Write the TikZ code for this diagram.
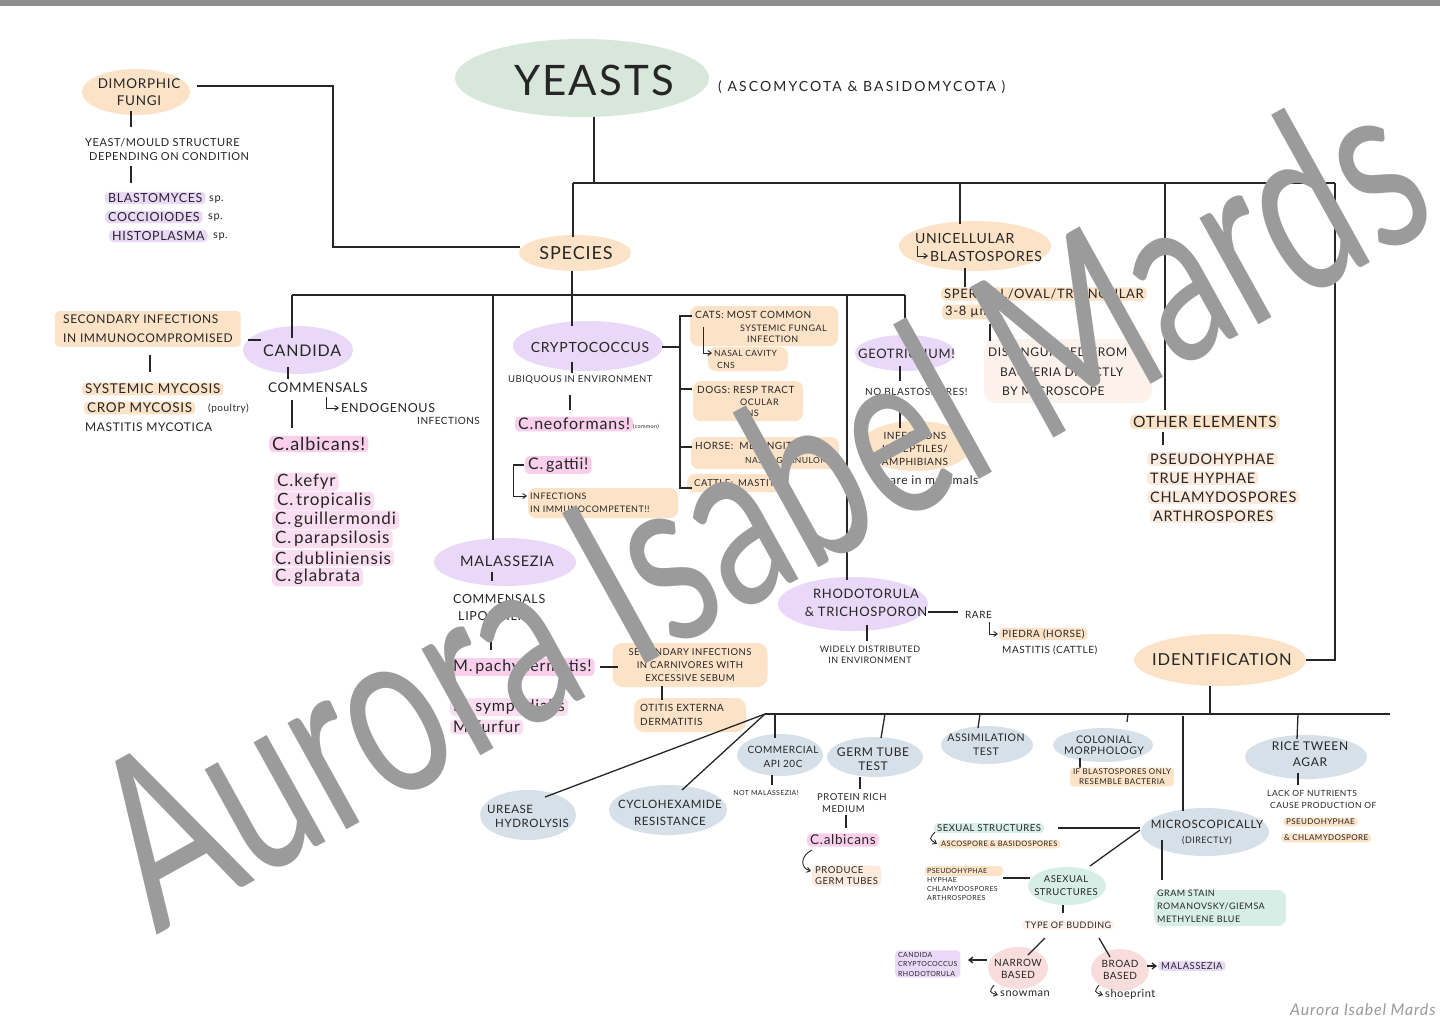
\documentclass[tikz,border=0pt]{standalone}
\usepackage{fontspec}
\setmainfont{Lato}[LetterSpace=5]
\newfontfamily\wmfont{Lato}
\usetikzlibrary{shapes.geometric,arrows.meta}
\definecolor{ink}{HTML}{262626}
\definecolor{sage}{HTML}{D7E7DA}
\definecolor{peach}{HTML}{FCE2C6}
\definecolor{lpeach}{HTML}{FCEBDD}
\definecolor{lav}{HTML}{E9D8F8}
\definecolor{pnk}{HTML}{F9CFEB}
\definecolor{lpnk}{HTML}{FBDDF1}
\definecolor{bgray}{HTML}{D6E0E8}
\definecolor{mint}{HTML}{D6EEE5}
\definecolor{rose}{HTML}{F9DCDC}
\definecolor{pale}{HTML}{FDF1EC}
\definecolor{wm}{HTML}{9B9B9B}
\definecolor{bar}{HTML}{8E8E8E}
\newcommand\fz[2]{\fontsize{#1}{#2}\selectfont}
\tikzset{
  tx/.style={inner sep=0pt, anchor=west, align=left, text=ink},
  txc/.style={inner sep=0pt, anchor=center, align=center, text=ink},
  hl/.style={fill=#1, rounded corners=4pt, inner xsep=3pt, inner ysep=1.5pt},
  blob/.style={fill=#1, ellipse, draw=none, inner sep=0pt},
  grp/.style={fill=#1, rounded corners=8pt, draw=none, inner sep=0pt},
  ln/.style={draw=ink, line width=1.3pt},
  hook/.style={draw=ink, line width=0.9pt, -{Straight Barb[length=3.5pt,width=5pt]}},
}
\begin{document}
\begin{tikzpicture}[x=1pt,y=-1pt]
\useasboundingbox (0,0) rectangle (1440,1034);
\fill[white] (0,0) rectangle (1440,1034);
\fill[bar] (0,0) rectangle (1440,6);

% ---------- background blobs ----------
\node[blob=sage, minimum width=254, minimum height=78] (yeastsbg) at (582,78) {};
\node[blob=peach, minimum width=108, minimum height=46] (dimbg) at (136,92) {};
\node[blob=peach, minimum width=112, minimum height=36] (specbg) at (575,253) {};
\node[blob=lav, minimum width=110, minimum height=48] (candbg) at (298,350) {};
\node[blob=lav, minimum width=150, minimum height=50] (crybg) at (588,346) {};
\node[blob=lav, minimum width=100, minimum height=36] (geobg) at (905,353) {};
\node[blob=peach, minimum width=112, minimum height=50] (geoinfbg) at (916,446) {};
\node[blob=peach, minimum width=152, minimum height=50] (unibg) at (975,246) {};
\node[grp=pale, rounded corners=12pt, minimum width=168, minimum height=64] (distbg) at (1068,371) {};
\node[blob=lav, minimum width=142, minimum height=48] (malbg) at (505,562) {};
\node[blob=lav, minimum width=150, minimum height=54] (rhobg) at (853,604) {};
\node[blob=peach, minimum width=172, minimum height=52] (idbg) at (1220,660) {};
\node[grp=peach, minimum width=148, minimum height=40] (catsbg) at (764,326) {};
\node[grp=peach, minimum width=80, minimum height=24] (nasalbg) at (748,359) {};
\node[grp=peach, minimum width=110, minimum height=40] (dogsbg) at (748,401) {};
\node[grp=peach, minimum width=148, minimum height=32] (horsebg) at (765,453) {};
\node[grp=peach, minimum width=100, minimum height=18] (cattlebg) at (737,483) {};
\node[grp=peach, minimum width=150, minimum height=30] (gattbg) at (603,503) {};
\node[grp=peach, rounded corners=10pt, minimum width=155, minimum height=44] (secmalbg) at (690,665) {};
\node[grp=peach, rounded corners=10pt, minimum width=112, minimum height=34] (otitisbg) at (690,715) {};
\node[grp=mint, minimum width=132, minimum height=36] (grambg) at (1220,908) {};
\node[blob=bgray, minimum width=96, minimum height=50] (ureabg) at (528,815) {};
\node[blob=bgray, minimum width=118, minimum height=50] (cyclobg) at (668,810) {};
\node[blob=bgray, minimum width=86, minimum height=42] (apibg) at (780,755) {};
\node[blob=bgray, minimum width=96, minimum height=40] (germbg) at (875,757) {};
\node[blob=bgray, minimum width=92, minimum height=38] (assimbg) at (987,745) {};
\node[blob=bgray, minimum width=100, minimum height=34] (colbg) at (1103,745) {};
\node[blob=bgray, minimum width=128, minimum height=48] (micbg) at (1205,832) {};
\node[blob=bgray, minimum width=122, minimum height=44] (ricebg) at (1306,757) {};
\node[blob=mint, minimum width=78, minimum height=38] (asexbg) at (1067,886) {};
\node[blob=rose, minimum width=60, minimum height=42] (narrowbg) at (1018,968) {};
\node[blob=rose, minimum width=58, minimum height=42] (broadbg) at (1120,970) {};
\node[grp=peach, rounded corners=4pt, minimum width=78, minimum height=10] (asexhl) at (964,871) {};

% ---------- connectors ----------
\draw[ln] (197,86) -- (333,86) -- (333,247) -- (520,247);
\draw[ln] (131,111) -- (131,127);
\draw[ln] (131,166) -- (131,183);
\draw[ln] (594,117) -- (594,183);
\draw[ln] (573,183) -- (1335,183);
\draw[ln] (573,183) -- (573,237);
\draw[ln] (960,183) -- (960,224);
\draw[ln] (1165,183) -- (1165,410);
\draw[ln] (1335,183) -- (1335,660) -- (1306,660);
\draw[ln] (572,271) -- (572,326);
\draw[ln] (292,295) -- (905,295);
\draw[ln] (292,295) -- (292,338);
\draw[ln] (493,295) -- (493,540);
\draw[ln] (847,295) -- (847,580);
\draw[ln] (905,295) -- (905,338);
\draw[ln] (248,340) -- (261,340);
\draw[ln] (150,355) -- (150,372);
\draw[ln] (288,367) -- (288,379);
\draw[ln] (292,400) -- (292,428);
\draw[hook] (326,397) -- (326,408) -- (339,408);
\draw[ln] (572,362) -- (572,373);
\draw[ln] (570,395) -- (570,410);
\draw[ln] (662,347) -- (680,347);
\draw[ln] (692,316) -- (680,316) -- (680,488) -- (692,488);
\draw[ln] (680,389) -- (692,389);
\draw[ln] (680,447) -- (692,447);
\draw[hook] (703,327) -- (703,353) -- (712,353);
\draw[ln] (524,465) -- (513,465);
\draw[hook] (513,465) -- (513,496) -- (527,496);
\draw[ln] (900,366) -- (900,381);
\draw[ln] (900,402) -- (900,428);
\draw[hook] (917,246) -- (917,256) -- (928,256);
\draw[ln] (965,268) -- (965,287);
\draw[ln] (990,324) -- (990,341);
\draw[ln] (1163,432) -- (1163,445);
\draw[ln] (492,572) -- (492,581);
\draw[ln] (491,635) -- (491,650);
\draw[ln] (600,667) -- (618,667);
\draw[ln] (662,686) -- (662,700);
\draw[ln] (928,612) -- (958,612);
\draw[hook] (989,622) -- (989,634) -- (998,634);
\draw[ln] (867,625) -- (867,641);
\draw[ln] (1210,686) -- (1210,714);
\draw[ln] (765,714) -- (1390,714);
\draw[ln] (765,714) -- (545,797);
\draw[ln] (765,714) -- (682,790);
\draw[ln] (775,714) -- (775,738);
\draw[ln] (772,775) -- (772,785);
\draw[ln] (885,714) -- (881,738);
\draw[ln] (860,777) -- (860,789);
\draw[ln] (846,815) -- (846,828);
\draw[hook] (812,850) .. controls (800,856) and (800,868) .. (811,871);
\draw[ln] (980,714) -- (978,728);
\draw[ln] (1128,714) -- (1127,722);
\draw[ln] (1080,758) -- (1080,770);
\draw[ln] (1183,716) -- (1183,811);
\draw[ln] (1298,714) -- (1297,739);
\draw[ln] (1298,773) -- (1298,785);
\draw[ln] (1058,828) -- (1140,828);
\draw[hook] (935,832) .. controls (929,839) .. (937,844);
\draw[ln] (1140,830) -- (1090,866);
\draw[ln] (1003,878) -- (1030,878);
\draw[ln] (1162,840) -- (1162,880);
\draw[ln] (1063,905) -- (1063,913);
\draw[ln] (1045,938) -- (1028,955);
\draw[ln, -{Straight Barb[length=4pt,width=6pt]}] (987,960) -- (968,960);
\draw[hook] (994,985) .. controls (989,992) .. (998,995);
\draw[ln] (1099,938) -- (1110,957);
\draw[ln, -{Straight Barb[length=4pt,width=6pt]}] (1147,966) -- (1157,966);
\draw[hook] (1099,985) .. controls (1094,992) .. (1103,995);

% ---------- texts ----------
\node[txc, font=\fz{42}{46}] (yeasts) at (594,80) {YEASTS};
\node[tx, font=\fz{14}{16}\addfontfeature{LetterSpace=15}] (phyla) at (718,87) {( ASCOMYCOTA \& BASIDOMYCOTA )};
\node[txc, font=\fz{13.5}{17}] (dim) at (139,92) {DIMORPHIC\\FUNGI};
\node[tx, font=\fz{11}{14}] (dimdesc) at (85,149) {YEAST/MOULD STRUCTURE\\\hspace{4pt}DEPENDING ON CONDITION};
\node[tx, hl=lav, font=\fz{12.5}{15}] (blasto) at (105,198) {BLASTOMYCES};
\node[tx, font=\fz{11}{13}] (sp1) at (209,200) {sp.};
\node[tx, hl=lav, font=\fz{12.5}{15}] (cocci) at (105,217) {COCCIOIODES};
\node[tx, font=\fz{11}{13}] (sp2) at (208,218) {sp.};
\node[tx, hl=lav, font=\fz{12.5}{15}] (histo) at (109,236) {HISTOPLASMA};
\node[tx, font=\fz{11}{13}] (sp3) at (213,237) {sp.};
\node[txc, font=\fz{18}{20}] (species) at (576,253) {SPECIES};

\node[tx, hl=peach, font=\fz{12}{19}, inner xsep=8pt, inner ysep=4pt] (secinf) at (55,329) {SECONDARY INFECTIONS\\IN IMMUNOCOMPROMISED};
\node[tx, font=\fz{16}{18}] (candida) at (263,351) {CANDIDA};
\node[tx, hl=peach, font=\fz{13.5}{15}] (sysmyc) at (82,389) {SYSTEMIC MYCOSIS};
\node[tx, hl=peach, font=\fz{13.5}{15}] (cropmyc) at (84,408) {CROP MYCOSIS};
\node[tx, font=\fz{10}{12}] (poultry) at (208,408) {(poultry)};
\node[tx, font=\fz{12}{14}] (mastmyc) at (85,427) {MASTITIS MYCOTICA};
\node[tx, font=\fz{13.5}{16}] (comm) at (268,388) {COMMENSALS};
\node[tx, font=\fz{12.5}{14}] (endo) at (341,408) {ENDOGENOUS};
\node[tx, font=\fz{10}{12}] (endoinf) at (417,421) {INFECTIONS};
\node[tx, hl=pnk, font=\fz{18}{20}] (calb) at (269,444) {C.albicans!};
\node[tx, hl=lpnk, font=\fz{17}{19}] (ckef) at (274,482) {C.kefyr};
\node[tx, hl=lpnk, font=\fz{17}{19}] (ctrop) at (274,501) {C.\,tropicalis};
\node[tx, hl=lpnk, font=\fz{17}{19}] (cguil) at (272,520) {C.\,guillermondi};
\node[tx, hl=lpnk, font=\fz{17}{19}] (cpara) at (272,539) {C.\,parapsilosis};
\node[tx, hl=lpnk, font=\fz{17}{19}] (cdub) at (272,558) {C.\,dubliniensis};
\node[tx, hl=lpnk, font=\fz{17}{19}] (cglab) at (272,577) {C.\,glabrata};

\node[txc, font=\fz{14}{16}] (crypto) at (590,347) {CRYPTOCOCCUS};
\node[tx, font=\fz{9.5}{11}] (ubiq) at (508,380) {UBIQUOUS IN ENVIRONMENT};
\node[tx, hl=pnk, font=\fz{16}{18}] (cneo) at (515,424) {C.neoformans!};
\node[tx, font=\fz{5.5}{6}] (common) at (633,427) {(common)};
\node[tx, hl=pnk, font=\fz{16}{18}] (cgat) at (525,465) {C.\,gattii!};
\node[tx, font=\fz{9}{13}] (gatinf) at (530,503) {INFECTIONS\\IN IMMUNOCOMPETENT!!};
\node[tx, font=\fz{10}{12}] (cats) at (695,315) {CATS: MOST COMMON};
\node[tx, font=\fz{9}{11}] (cats2) at (740,334) {SYSTEMIC FUNGAL\\\hspace{7pt}INFECTION};
\node[tx, font=\fz{8.5}{12}] (nasal) at (714,359) {NASAL CAVITY\\\hspace{3pt}CNS};
\node[tx, font=\fz{10}{12}] (dogs) at (697,390) {DOGS: RESP TRACT};
\node[tx, font=\fz{9}{11}] (dogs2) at (740,408) {OCULAR\\CNS};
\node[tx, font=\fz{10}{12}] (horse) at (695,446) {HORSE:\hspace{6pt}MENINGITIS};
\node[tx, font=\fz{8.5}{10}] (horse2) at (745,460) {NASAL GRANULOMAS};
\node[tx, font=\fz{9.5}{11}] (cattle) at (694,483) {CATTLE:\hspace{5pt}MASTITIS};

\node[tx, font=\fz{13}{15}] (geo) at (858,354) {GEOTRICHUM!};
\node[tx, font=\fz{10}{12}] (noblast) at (865,392) {NO BLASTOSPORES!};
\node[txc, font=\fz{10}{13}] (geoinf) at (915,449) {INFECTIONS\\IN REPTILES/\\AMPHIBIANS};
\node[tx, font=\fz{12}{14}] (raremam) at (885,480) {rare in mammals};

\node[tx, font=\fz{14}{16}] (uni) at (915,238) {UNICELLULAR};
\node[tx, font=\fz{14}{16}] (blastosp) at (930,256) {BLASTOSPORES};
\node[tx, hl=peach, font=\fz{13}{15}] (shape) at (941,294) {SPERICAL/OVAL/TRIANGULAR};
\node[tx, hl=peach, font=\fz{13}{15}] (size) at (942,312) {3-8 µm};
\node[tx, font=\fz{12}{19.5}] (dist) at (988,372) {DISTINGUISHED FROM\\\hspace{12pt}BACTERIA DIRECTLY\\\hspace{14pt}BY MICROSCOPE};

\node[tx, hl=peach, font=\fz{15.5}{17}] (other) at (1130,422) {OTHER ELEMENTS};
\node[tx, hl=lpeach, font=\fz{14.5}{16}] (pseudo) at (1147,459) {PSEUDOHYPHAE};
\node[tx, hl=lpeach, font=\fz{14.5}{16}] (truehyph) at (1147,478) {TRUE HYPHAE};
\node[tx, hl=lpeach, font=\fz{14.5}{16}] (chlamy) at (1147,497) {CHLAMYDOSPORES};
\node[tx, hl=lpeach, font=\fz{14.5}{16}] (arthro) at (1150,516) {ARTHROSPORES};

\node[tx, font=\fz{14.5}{16}] (mal) at (460,561) {MALASSEZIA};
\node[tx, font=\fz{12.5}{17}] (malcomm) at (453,608) {COMMENSALS\\\hspace{5pt}LIPOPHILIC};
\node[tx, hl=pnk, font=\fz{16}{18}] (mpach) at (450,667) {M.\,pachydermatis!};
\node[txc, font=\fz{9.5}{13}] (secmal) at (690,665) {SECONDARY INFECTIONS\\IN CARNIVORES WITH\\EXCESSIVE SEBUM};
\node[tx, font=\fz{10}{14}] (otitis) at (640,715) {OTITIS EXTERNA\\DERMATITIS};
\node[tx, hl=lpnk, font=\fz{16}{18}] (msym) at (450,707) {M.\,sympodialis};
\node[tx, hl=lpnk, font=\fz{16}{18}] (mfur) at (450,727) {M.\,furfur};

\node[txc, font=\fz{13}{18}] (rho) at (866,603) {RHODOTORULA\\\& TRICHOSPORON};
\node[tx, font=\fz{10}{12}] (rare) at (965,615) {RARE};
\node[tx, hl=peach, font=\fz{10}{12}] (piedra) at (999,634) {PIEDRA (HORSE)};
\node[tx, font=\fz{10}{12}] (mastcat) at (1002,650) {MASTITIS (CATTLE)};
\node[txc, font=\fz{9}{11}] (widely) at (870,655) {WIDELY DISTRIBUTED\\IN ENVIRONMENT};

\node[txc, font=\fz{16.5}{18}] (ident) at (1222,660) {IDENTIFICATION};
\node[tx, font=\fz{11.5}{14}] (urease) at (487,816) {UREASE\\\hspace{8pt}HYDROLYSIS};
\node[txc, font=\fz{11.5}{17}] (cyclo) at (670,813) {CYCLOHEXAMIDE\\RESISTANCE};
\node[txc, font=\fz{10}{14}] (api) at (783,757) {COMMERCIAL\\API 20C};
\node[txc, font=\fz{7}{8}] (notmal) at (766,793) {NOT MALASSEZIA!};
\node[txc, font=\fz{12}{14}] (germ) at (873,759) {GERM TUBE\\TEST};
\node[tx, font=\fz{9.5}{12}] (protein) at (817,803) {PROTEIN RICH\\\hspace{5pt}MEDIUM};
\node[tx, hl=pnk, font=\fz{13.5}{15}] (calb2) at (807,840) {C.albicans};
\node[tx, hl=lpeach, font=\fz{9.5}{11}] (produce) at (812,876) {PRODUCE\\GERM TUBES};
\node[txc, font=\fz{10.5}{14}] (assim) at (986,745) {ASSIMILATION\\TEST};
\node[txc, font=\fz{10.5}{11}] (colon) at (1104,745) {COLONIAL\\MORPHOLOGY};
\node[txc, hl=peach, font=\fz{8}{10}] (ifblast) at (1122,777) {IF BLASTOSPORES ONLY\\RESEMBLE BACTERIA};
\node[txc, font=\fz{11.5}{15}] (micro) at (1207,832) {MICROSCOPICALLY\\{\fz{9}{11}(DIRECTLY)}};
\node[txc, font=\fz{12}{16}] (rice) at (1310,754) {RICE TWEEN\\AGAR};
\node[tx, font=\fz{8.5}{12}] (lack) at (1267,799) {LACK OF NUTRIENTS\\\hspace{3pt}CAUSE PRODUCTION OF};
\node[tx, hl=peach, font=\fz{8}{10}] (pseudo2) at (1283,822) {PSEUDOHYPHAE};
\node[tx, hl=peach, font=\fz{8}{10}] (chlamy2) at (1281,838) {\& CHLAMYDOSPORE};
\node[tx, hl=mint, font=\fz{9.5}{11}] (sexual) at (934,828) {SEXUAL STRUCTURES};
\node[tx, hl=peach, font=\fz{7.5}{9}] (ascosp) at (938,844) {ASCOSPORE \& BASIDOSPORES};
\node[txc, font=\fz{9.5}{13}] (asexual) at (1066,886) {ASEXUAL\\STRUCTURES};
\node[tx, font=\fz{7}{9}] (asexlist) at (927,884) {PSEUDOHYPHAE\\HYPHAE\\CHLAMYDOSPORES\\ARTHROSPORES};
\node[tx, font=\fz{9}{13}] (gram) at (1157,906) {GRAM STAIN\\ROMANOVSKY/GIEMSA\\METHYLENE BLUE};
\node[tx, hl=pale, font=\fz{9}{11}] (budding) at (1022,925) {TYPE OF BUDDING};
\node[txc, font=\fz{10}{12}] (narrow) at (1018,969) {NARROW\\BASED};
\node[tx, hl=lav, font=\fz{7}{9.5}] (ccr) at (895,964) {CANDIDA\\CRYPTOCOCCUS\\RHODOTORULA};
\node[tx, font=\fz{11}{12}] (snow) at (1000,994) {snowman};
\node[txc, font=\fz{10}{12}] (broad) at (1120,970) {BROAD\\BASED};
\node[tx, hl=lav, font=\fz{9.5}{11}] (malid) at (1158,966) {MALASSEZIA};
\node[tx, font=\fz{11}{12}] (shoe) at (1105,994) {shoeprint};

\node[tx, text=wm, font=\fz{16}{18}\itshape] (sig) at (1290,1010) {Aurora Isabel Mards};

% ---------- watermark ----------
\node[text=wm, inner sep=0pt, rotate=29, font=\wmfont\fz{240}{240}] (wmark) at (758,502) {\scalebox{0.70}[1]{Aurora Isabel Mards}};
\end{tikzpicture}
\end{document}
